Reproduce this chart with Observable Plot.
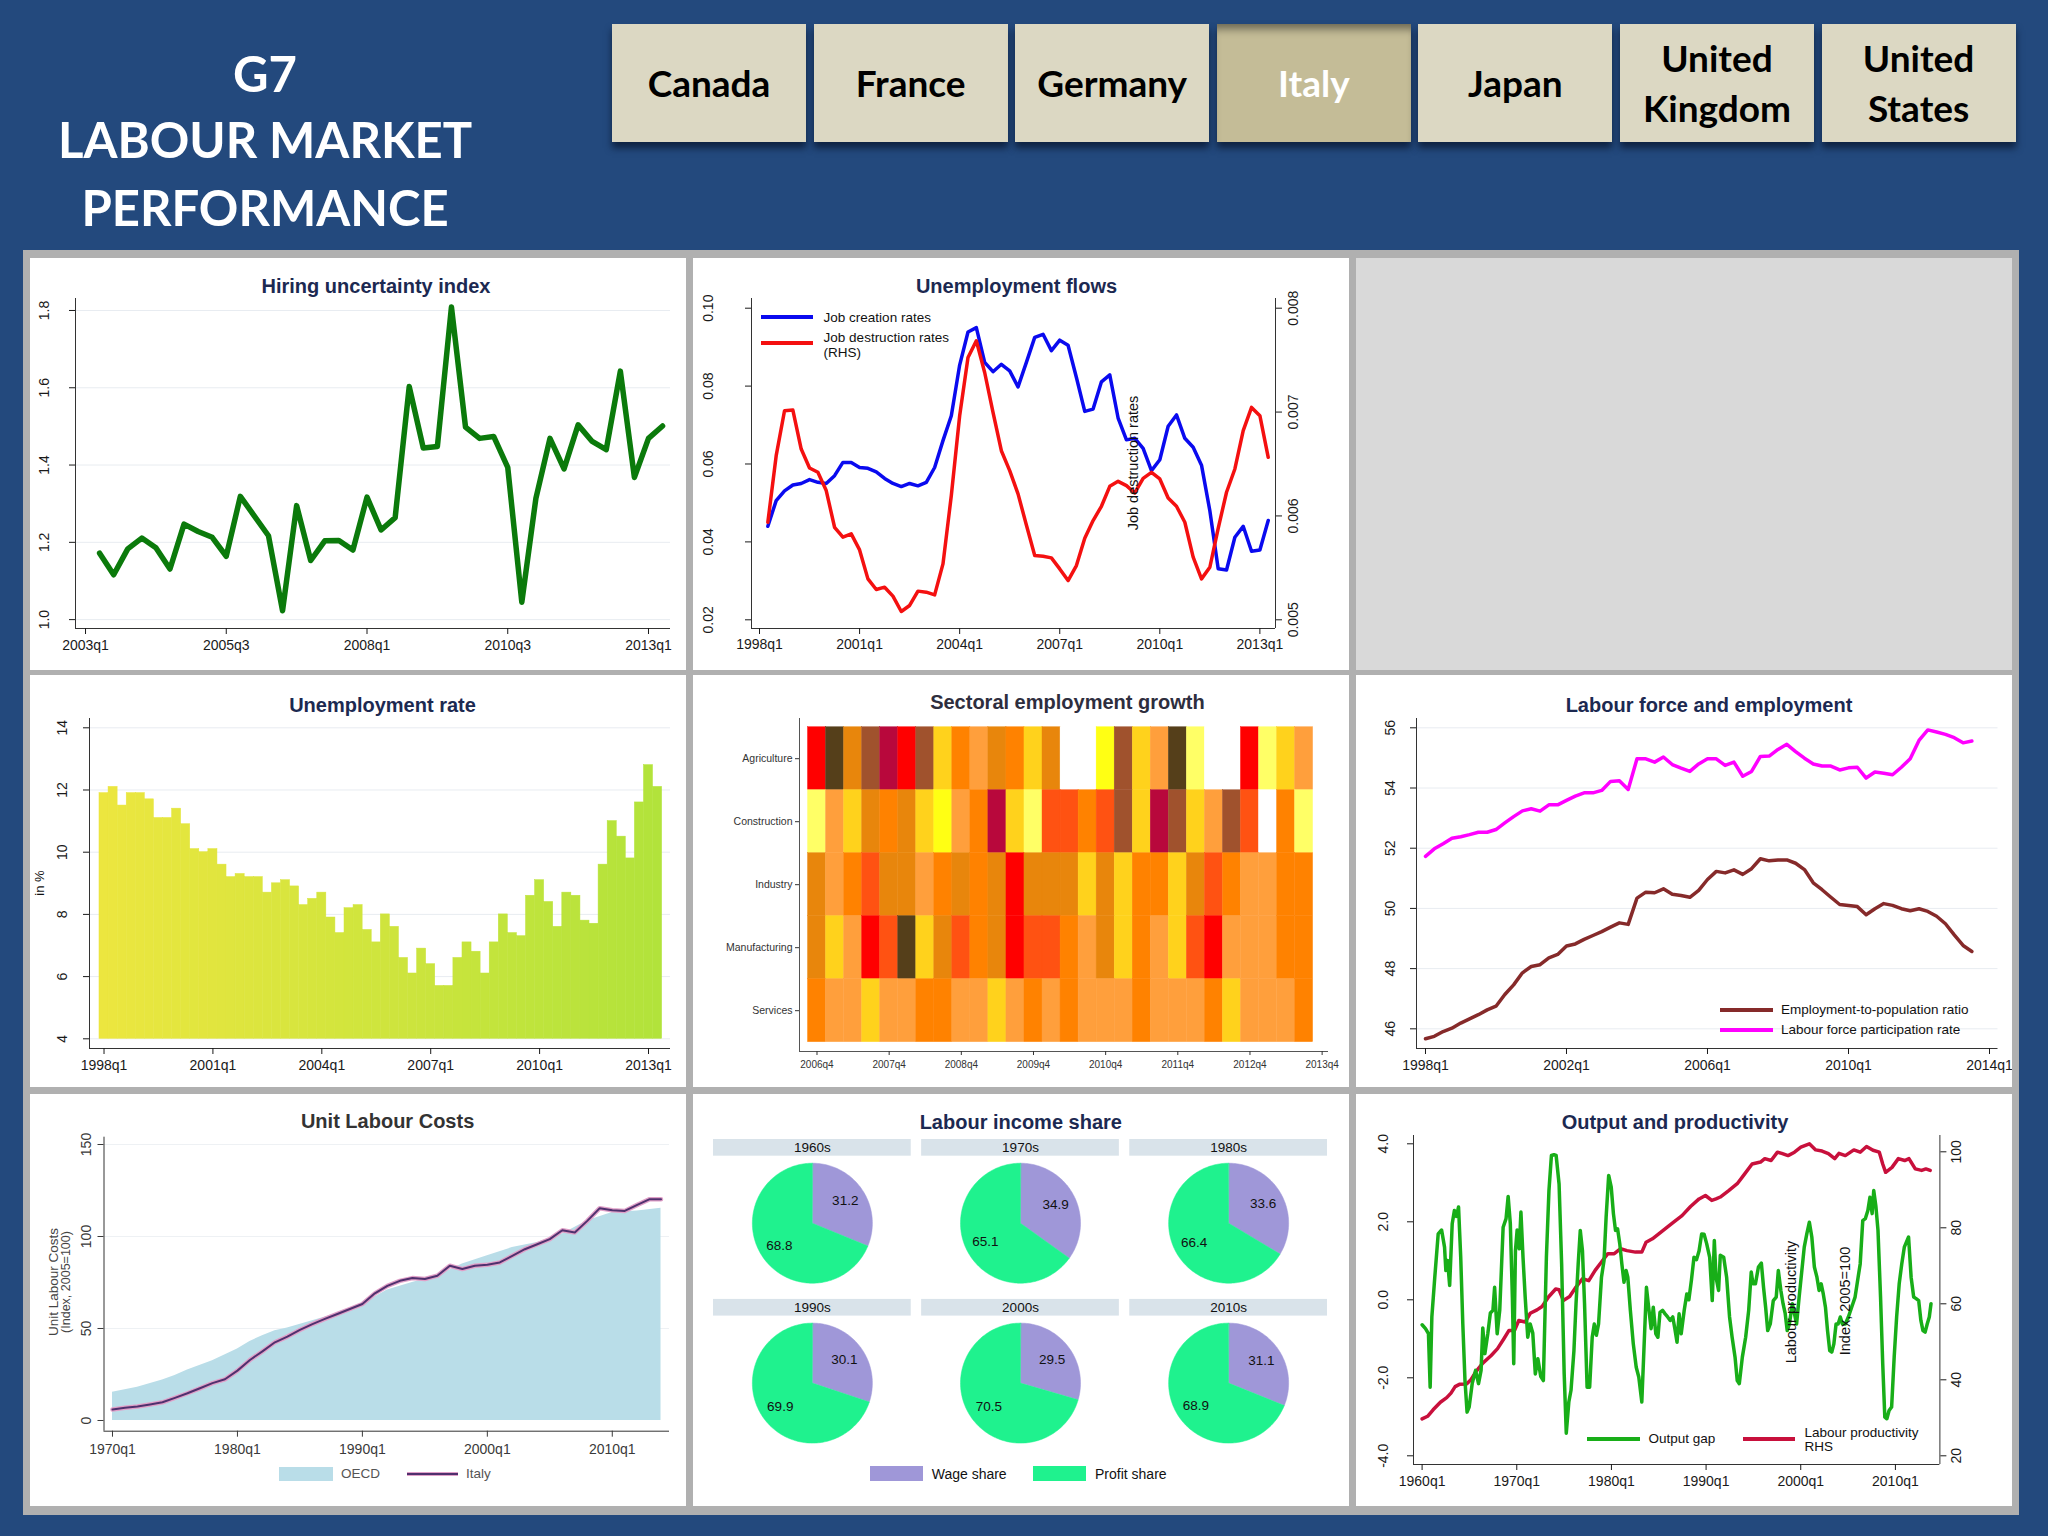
<!DOCTYPE html>
<html><head><meta charset="utf-8">
<script src="https://cdn.jsdelivr.net/npm/d3@7"></script>
<script src="https://cdn.jsdelivr.net/npm/@observablehq/plot@0.6"></script>
<style>
html,body{margin:0;padding:0;}
body{width:2048px;height:1536px;background:#23497d;position:relative;overflow:hidden;font-family:"Liberation Sans",Arial,sans-serif;}
.head{position:absolute;left:265px;transform:translate(-50%,-50%);color:#fff;font:700 49px/1 Lato,sans-serif;white-space:nowrap;}
.btn{position:absolute;top:24px;width:194px;height:118px;background:#dcd8c3;display:flex;align-items:center;justify-content:center;text-align:center;font:700 37px/50px Lato,sans-serif;color:#000;box-shadow:0 6px 7px rgba(8,22,45,0.75);}
.btn.sel{background:#c4bc97;color:#fff;box-shadow:inset 0 10px 9px -5px rgba(0,0,0,0.45),0 6px 7px rgba(8,22,45,0.75);}
#frame{position:absolute;left:23px;top:250px;width:1996px;height:1265px;background:#b0b0b0;}
.panel{position:absolute;width:656px;height:412px;background:#fff;overflow:hidden;}
.panel svg{position:absolute;left:0;top:0;}
.ov{position:absolute;white-space:nowrap;font-family:"Liberation Sans",Arial,sans-serif;color:#111;}
</style></head><body>
<div id="frame"></div>
<script>
// ---------------- DATA ----------------
const countries = ["Canada", "France", "Germany", "Italy", "Japan", "United\nKingdom", "United\nStates"];
const selectedCountry = "Italy";

// Hiring uncertainty index (quarterly from 2003q2)
const hiringStart = "2003q2";
const hiringValues = [1.172,1.116,1.183,1.211,1.186,1.131,1.247,1.228,1.213,1.164,1.319,1.268,1.217,1.023,1.295,1.153,1.204,1.205,1.180,1.317,1.232,1.264,1.603,1.444,1.448,1.809,1.498,1.469,1.474,1.394,1.045,1.314,1.469,1.390,1.504,1.461,1.440,1.643,1.368,1.469,1.501];
const hiringXTicks = ["2003q1","2005q3","2008q1","2010q3","2013q1"];
const hiringYTicks = [1.0,1.2,1.4,1.6,1.8];

// Unemployment flows (quarterly from 1998q2)
const flowsStart = "1998q2";
const jobCreation = [0.0440,0.0506,0.0531,0.0546,0.0550,0.0560,0.0553,0.0550,0.0570,0.0604,0.0604,0.0591,0.0589,0.0580,0.0563,0.0550,0.0542,0.0550,0.0544,0.0553,0.0591,0.0660,0.0724,0.0854,0.0939,0.0950,0.0861,0.0837,0.0856,0.0839,0.0798,0.0861,0.0925,0.0933,0.0891,0.0918,0.0905,0.0822,0.0735,0.0741,0.0811,0.0829,0.0718,0.0662,0.0666,0.0640,0.0583,0.0611,0.0697,0.0726,0.0666,0.0643,0.0597,0.0480,0.0331,0.0328,0.0412,0.0440,0.0376,0.0379,0.0455];
const jobDestruction = [0.005939,0.006580,0.007013,0.007019,0.006644,0.006462,0.006420,0.006244,0.005891,0.005795,0.005827,0.005673,0.005394,0.005292,0.005314,0.005228,0.005080,0.005138,0.005276,0.005266,0.005240,0.005538,0.006196,0.006965,0.007526,0.007686,0.007381,0.006997,0.006628,0.006436,0.006212,0.005913,0.005619,0.005612,0.005596,0.005490,0.005378,0.005522,0.005785,0.005955,0.006093,0.006285,0.006333,0.006292,0.006221,0.006362,0.006420,0.006356,0.006173,0.006093,0.005939,0.005603,0.005394,0.005506,0.005881,0.006228,0.006452,0.006821,0.007045,0.006965,0.006564];
const flowsXTicks = ["1998q1","2001q1","2004q1","2007q1","2010q1","2013q1"];
const flowsLeftTicks = [0.02,0.04,0.06,0.08,0.10];
const flowsRightTicks = [0.005,0.006,0.007,0.008];

// Unemployment rate (quarterly from 1998q1), in %
const urateStart = "1998q1";
const urateValues = [11.9,12.1,11.5,11.9,11.9,11.7,11.1,11.1,11.4,10.9,10.1,10.0,10.1,9.6,9.2,9.3,9.2,9.2,8.7,9.0,9.1,8.9,8.3,8.5,8.7,7.9,7.4,8.2,8.3,7.5,7.1,8.0,7.6,6.6,6.1,6.9,6.4,5.7,5.7,6.6,7.1,6.8,6.1,7.1,8.0,7.4,7.3,8.6,9.1,8.4,7.6,8.7,8.6,7.8,7.7,9.6,11.0,10.5,9.8,11.6,12.8,12.1];
const urateXTicks = ["1998q1","2001q1","2004q1","2007q1","2010q1","2013q1"];
const urateYTicks = [4,6,8,10,12,14];

// Sectoral employment growth (colour class per quarter, from 2006q4)
const heatStart = "2006q4";
const sectors = ["Agriculture","Construction","Industry","Manufacturing","Services"];
const agriculture   = [8,11,6,10,9,8,10,3,5,4,6,5,3,6,0,0,2,10,3,4,11,1,0,0,8,1,3,4];
const construction  = [1,4,3,6,5,6,3,2,4,5,9,3,1,7,7,5,7,10,3,9,10,3,4,10,7,0,5,1];
const industry      = [6,4,5,7,6,6,4,5,6,5,6,8,6,6,6,3,6,3,5,5,3,6,7,5,4,4,5,5];
const manufacturing = [6,3,4,8,7,11,3,6,7,5,6,8,7,7,5,4,6,3,5,4,3,7,8,4,4,4,5,5];
const services      = [5,4,4,3,4,4,5,5,4,4,3,4,5,4,5,4,4,4,5,4,4,4,5,3,4,4,4,5];
const heatClasses = [0,1,2,3,4,5,6,7,8,9,10,11];
const heatPalette = ["#ffffff","#ffff66","#ffff14","#ffd21c","#ff9f3c","#ff8200","#e8860c","#ff5212","#ff0000","#b8083c","#a0522d","#553f1a"];
const heatXTicks = ["2006q4","2007q4","2008q4","2009q4","2010q4","2011q4","2012q4","2013q4"];

// Labour force and employment (quarterly from 1998q1)
const lfStart = "1998q1";
const participation = [51.73,51.98,52.15,52.33,52.38,52.45,52.53,52.53,52.62,52.84,53.05,53.24,53.31,53.23,53.44,53.44,53.59,53.73,53.84,53.84,53.92,54.22,54.24,53.95,54.97,54.97,54.86,55.03,54.78,54.66,54.55,54.80,54.97,54.97,54.75,54.86,54.39,54.55,55.05,55.06,55.28,55.45,55.21,54.99,54.80,54.73,54.73,54.60,54.67,54.69,54.33,54.53,54.49,54.44,54.69,54.97,55.58,55.93,55.86,55.78,55.67,55.50,55.56];
const employmentRatio = [45.67,45.75,45.91,46.02,46.19,46.33,46.47,46.63,46.75,47.14,47.46,47.86,48.07,48.13,48.36,48.47,48.75,48.82,48.97,49.10,49.23,49.38,49.52,49.47,50.34,50.54,50.52,50.65,50.47,50.43,50.37,50.60,50.96,51.23,51.18,51.28,51.13,51.32,51.65,51.58,51.61,51.61,51.50,51.29,50.85,50.62,50.37,50.13,50.10,50.06,49.79,49.99,50.16,50.10,49.99,49.92,49.99,49.90,49.74,49.49,49.12,48.77,48.57];
const lfXTicks = ["1998q1","2002q1","2006q1","2010q1","2014q1"];
const lfYTicks = [46,48,50,52,54,56];

// Unit labour costs (index, 2005=100)
const oecdYears = [1970,1972,1974,1975,1976,1978,1980,1981,1982,1983,1984,1986,1988,1990,1992,1994,1996,1998,2000,2002,2004,2006,2008,2010,2012,2013.9];
const oecdValues = [15.4,18.1,22.0,24.4,27.5,32.5,38.9,43.0,46.1,48.8,50.3,54.2,58.2,63.3,70.9,75.0,78.7,85.0,89.5,94.0,96.7,101.3,108.5,113.0,113.9,115.4];
const italyYears = [1970,1971,1972,1973,1974,1975,1976,1977,1978,1979,1980,1981,1982,1983,1984,1985,1986,1987,1988,1989,1990,1991,1992,1993,1994,1995,1996,1997,1998,1999,2000,2001,2002,2003,2004,2005,2006,2007,2008,2009,2010,2011,2012,2013,2013.9];
const italyValues = [6.0,6.9,7.6,8.7,9.9,12.3,14.8,17.5,20.3,22.4,27.1,32.9,37.6,42.5,45.6,49.2,52.4,55.2,57.9,60.6,63.3,69.1,73.2,75.9,77.4,76.9,78.7,84.1,82.3,84.1,84.6,85.9,89.5,93.1,95.8,98.6,103.4,102.2,108.5,115.4,114.3,113.9,117.2,120.3,120.3];
const ulcXTicks = ["1970q1","1980q1","1990q1","2000q1","2010q1"];
const ulcYTicks = [0,50,100,150];

// Labour income share by decade
const decades = ["1960s","1970s","1980s","1990s","2000s","2010s"];
const wageShare = [31.2,34.9,33.6,30.1,29.5,31.1];
const profitShare = [68.8,65.1,66.4,69.9,70.5,68.9];

// Output and productivity
const gapYears = [1960.00,1960.36,1960.67,1960.85,1961.03,1961.34,1961.70,1962.06,1962.37,1962.51,1962.69,1962.91,1963.18,1963.41,1963.63,1963.85,1964.08,1964.30,1964.53,1964.75,1964.97,1965.29,1965.65,1965.96,1966.23,1966.41,1966.63,1966.94,1967.21,1967.48,1967.66,1967.93,1968.20,1968.56,1968.87,1969.09,1969.32,1969.54,1969.68,1969.86,1970.04,1970.26,1970.44,1970.66,1970.89,1971.16,1971.42,1971.69,1971.96,1972.23,1972.54,1972.81,1973.13,1973.40,1973.66,1973.93,1974.16,1974.47,1974.74,1975.01,1975.23,1975.50,1975.73,1976.04,1976.26,1976.49,1976.71,1976.94,1977.16,1977.43,1977.70,1977.97,1978.19,1978.41,1978.64,1978.95,1979.22,1979.44,1979.71,1979.98,1980.21,1980.43,1980.65,1980.88,1981.10,1981.33,1981.55,1981.73,1982.00,1982.31,1982.62,1982.89,1983.21,1983.43,1983.70,1983.97,1984.19,1984.42,1984.69,1984.91,1985.13,1985.40,1985.67,1985.94,1986.21,1986.48,1986.70,1986.93,1987.15,1987.37,1987.69,1987.96,1988.18,1988.45,1988.72,1988.99,1989.26,1989.53,1989.79,1990.06,1990.38,1990.65,1990.87,1991.05,1991.32,1991.50,1991.86,1992.17,1992.48,1992.75,1993.06,1993.29,1993.51,1993.83,1994.18,1994.50,1994.77,1994.95,1995.21,1995.53,1995.84,1996.07,1996.29,1996.51,1996.78,1997.10,1997.41,1997.63,1997.90,1998.13,1998.35,1998.57,1998.80,1999.11,1999.34,1999.56,1999.83,2000.10,2000.37,2000.64,2000.91,2001.17,2001.44,2001.71,2001.94,2002.16,2002.38,2002.61,2002.83,2003.06,2003.28,2003.50,2003.73,2003.95,2004.18,2004.40,2004.71,2005.03,2005.38,2005.74,2006.06,2006.28,2006.55,2006.82,2007.09,2007.31,2007.54,2007.71,2007.94,2008.16,2008.43,2008.66,2008.88,2009.10,2009.33,2009.60,2009.87,2010.13,2010.40,2010.67,2010.94,2011.16,2011.39,2011.66,2011.93,2012.19,2012.46,2012.69,2012.91,2013.14,2013.36,2013.58,2013.76];
const gapValues = [-0.64,-0.74,-0.87,-2.24,-0.44,0.58,1.69,1.79,1.35,0.75,1.01,0.37,1.95,2.29,2.14,2.38,1.09,-0.62,-2.07,-2.88,-2.75,-2.15,-1.81,-2.15,-1.81,-0.72,-1.38,-0.87,-0.34,-0.27,0.32,-0.87,-0.27,1.86,2.08,2.65,1.95,0.03,-1.64,1.26,1.79,1.31,2.25,1.09,0.07,-0.96,-0.62,-0.85,-1.90,-1.51,-1.97,-2.07,1.09,2.80,3.70,3.72,3.70,2.97,0.92,-1.90,-3.42,-2.62,-2.32,-1.30,-0.10,0.92,1.78,1.26,-0.10,-2.24,-2.24,-0.96,-0.62,-0.91,-0.62,0.58,1.01,2.12,3.19,2.89,2.21,1.78,1.82,1.44,0.92,0.45,0.75,0.58,-0.27,-1.13,-1.73,-1.98,-2.62,-1.30,0.32,-0.27,-0.74,-0.19,-0.87,-0.96,-0.32,-0.27,-0.36,-0.44,-0.53,-0.44,-0.74,-1.09,-0.36,-0.87,-0.27,0.15,0.00,0.50,1.09,1.03,1.26,1.69,1.68,1.44,1.09,-0.02,1.52,0.58,0.24,1.14,1.09,0.58,-0.44,-0.96,-1.47,-2.07,-2.15,-1.47,-0.96,-0.27,0.71,0.41,0.41,0.84,0.94,0.32,-0.19,-0.79,-0.62,-0.02,0.07,0.75,0.24,-0.10,-0.34,-0.79,-0.62,-0.10,-0.36,-0.62,0.07,0.71,1.35,1.69,1.99,1.61,0.84,0.58,0.24,0.41,0.15,-0.19,-0.79,-1.30,-1.34,-1.13,-0.62,-0.62,-0.44,-0.62,-0.62,-0.44,-0.19,0.07,0.58,0.92,2.03,2.08,2.29,2.63,2.21,2.80,2.39,1.78,0.07,-1.64,-3.01,-3.05,-2.84,-2.75,-1.47,-0.44,0.41,0.92,1.35,1.48,1.61,0.58,0.07,0.03,-0.02,-0.53,-0.79,-0.83,-0.62,-0.44,-0.10];
const prodYears = [1960.00,1960.58,1961.16,1961.93,1962.60,1963.05,1963.49,1963.94,1964.70,1965.15,1965.65,1966.41,1967.30,1967.97,1968.64,1969.18,1969.77,1970.21,1970.89,1971.42,1972.14,1972.68,1973.35,1974.11,1974.47,1974.92,1975.59,1976.26,1976.94,1977.61,1978.28,1978.95,1979.62,1980.30,1980.97,1981.64,1982.54,1983.21,1983.66,1984.33,1985.00,1985.90,1986.57,1987.46,1988.36,1989.26,1989.93,1990.60,1991.05,1991.50,1992.39,1993.29,1993.96,1994.86,1995.75,1996.20,1996.87,1997.54,1997.99,1998.66,1999.34,2000.01,2000.91,2001.58,2002.25,2002.92,2003.59,2004.04,2004.71,2005.61,2006.28,2006.95,2007.63,2008.30,2008.66,2008.97,2009.64,2010.31,2010.98,2011.43,2012.10,2012.77,2013.22,2013.67];
const prodValues = [29.7,30.4,32.1,34.1,35.3,36.5,38.2,38.8,38.9,40.0,42.0,44.4,46.4,48.2,50.8,53.0,53.0,55.6,55.2,57.5,58.4,59.3,61.8,63.9,63.7,60.9,61.9,64.4,66.6,66.1,68.8,71.0,73.2,73.2,74.5,74.0,73.6,73.6,76.2,77.1,78.4,80.2,81.5,83.2,85.6,87.6,88.5,87.2,87.6,88.1,89.8,91.6,93.8,96.8,97.3,98.2,97.7,99.9,99.6,99.0,99.9,101.2,102.1,100.5,100.2,99.5,98.2,99.6,99.0,100.5,99.9,101.4,100.4,99.9,96.8,94.6,95.9,98.2,97.7,98.2,95.5,95.1,95.5,95.1];
const opXTicks = ["1960q1","1970q1","1980q1","1990q1","2000q1","2010q1"];
const opLeftTicks = [-4,-2,0,2,4];
const opRightTicks = [20,40,60,80,100];

// ---------------- HELPERS ----------------
const W = 656, H = 412;
const colsX = [30, 693, 1356], rowsY = [258, 675, 1094];
const AX = "#333", GRID = "#e8ecf1";
const baseStyle = {background: "transparent", fontFamily: "Liberation Sans, Arial, sans-serif", fontSize: "14px", color: "#1a1a1a", overflow: "visible"};
const qnum = s => { const [y, q] = s.split("q"); return +y + (+q - 1) / 4; };
const qlab = v => { const y = Math.floor(v + 1e-6); return y + "q" + (Math.round((v - y) * 4) + 1); };
const quarterly = (start, values) => values.map((v, i) => ({x: qnum(start) + i / 4, v}));
const pairs = (xs, vs) => xs.slice(0, Math.min(xs.length, vs.length)).map((x, i) => ({x, v: vs[i]}));

function panel(c, r, bg) {
  const d = document.createElement("div");
  d.className = "panel";
  d.style.left = colsX[c] + "px"; d.style.top = rowsY[r] + "px";
  if (bg) d.style.background = bg;
  document.body.appendChild(d);
  return d;
}
function ov(p, text, x, y, css) {
  const d = document.createElement("div");
  d.className = "ov";
  d.innerHTML = text.split("\n").join("<br>");
  d.style.cssText += `left:${x}px;top:${y}px;` + (css || "");
  p.appendChild(d);
  return d;
}
function title(p, text, x, y, color) {
  ov(p, text, x, y, `transform:translate(-50%,-50%);font-weight:bold;font-size:20px;line-height:1;color:${color || "#1c2951"};`);
}
function sw(p, x1, x2, y, h, color) {
  const d = document.createElement("div");
  d.style.cssText = `position:absolute;left:${x1}px;top:${y - h / 2}px;width:${x2 - x1}px;height:${h}px;background:${color};`;
  p.appendChild(d);
}
function safe(p, f) { try { p.appendChild(f()); } catch (e) { ov(p, "ERR: " + e.message, 10, 200, "color:red;font-size:12px;white-space:normal;width:600px"); } }

// ---------------- HEADER ----------------
[["G7", 73], ["LABOUR MARKET", 139], ["PERFORMANCE", 207]].forEach(([t, y]) => {
  const d = document.createElement("div"); d.className = "head"; d.textContent = t; d.style.top = y + "px"; document.body.appendChild(d);
});
countries.forEach((c, i) => {
  const d = document.createElement("div");
  d.className = "btn" + (c === selectedCountry ? " sel" : "");
  d.style.left = (612 + i * 201.6) + "px";
  d.innerHTML = "<span>" + c.split("\n").join("<br>") + "</span>";
  document.body.appendChild(d);
});

// ---------------- PANEL 1: Hiring uncertainty ----------------
{
  const p = panel(0, 0);
  const xd = [2002.822, 2013.391], yd = [0.977, 1.831];
  safe(p, () => Plot.plot({
    width: W, height: H, marginLeft: 45, marginRight: 16, marginTop: 40, marginBottom: 42, style: baseStyle,
    x: {domain: xd}, y: {domain: yd},
    marks: [
      Plot.gridY(hiringYTicks, {stroke: GRID, strokeOpacity: 1}),
      Plot.ruleX([xd[0]], {stroke: AX}), Plot.ruleY([yd[0]], {stroke: AX}),
      Plot.axisY(hiringYTicks, {tickRotate: -90, tickSize: 6, tickPadding: 21, tickFormat: d => d.toFixed(1), label: null}),
      Plot.axisX(hiringXTicks.map(qnum), {tickSize: 6, tickPadding: 6, tickFormat: qlab, label: null}),
      Plot.line(quarterly(hiringStart, hiringValues), {x: "x", y: "v", stroke: "#0b7a0b", strokeWidth: 5.5, strokeLinejoin: "round"})
    ]
  }));
  title(p, "Hiring uncertainty index", 346, 28);
}

// ---------------- PANEL 2: Unemployment flows ----------------
{
  const p = panel(1, 0);
  const xd = [1997.760, 2013.468], yd = [0.017766, 0.10249];
  const toLeft = v => 0.02 + (v - 0.005) / 0.003 * 0.08;
  const fromLeft = d => 0.005 + (d - 0.02) / 0.08 * 0.003;
  safe(p, () => Plot.plot({
    width: W, height: H, marginLeft: 58, marginRight: 74, marginTop: 40, marginBottom: 42, style: baseStyle,
    x: {domain: xd}, y: {domain: yd},
    marks: [
      Plot.ruleX([xd[0]], {stroke: AX}), Plot.ruleX([xd[1]], {stroke: AX}), Plot.ruleY([yd[0]], {stroke: AX}),
      Plot.axisY(flowsLeftTicks, {tickRotate: -90, tickSize: 6, tickPadding: 33, tickFormat: d => d.toFixed(2), label: null}),
      Plot.axisY(flowsRightTicks.map(toLeft), {anchor: "right", tickRotate: -90, lineAnchor: "top", tickSize: 6, tickPadding: 7, tickFormat: d => fromLeft(d).toFixed(3), label: null}),
      Plot.axisX(flowsXTicks.map(qnum), {tickSize: 6, tickPadding: 5, tickFormat: qlab, label: null}),
      Plot.line(quarterly(flowsStart, jobCreation), {x: "x", y: "v", stroke: "#0a0aef", strokeWidth: 3.5}),
      Plot.line(quarterly(flowsStart, jobDestruction), {x: "x", y: d => toLeft(d.v), stroke: "#f41010", strokeWidth: 3.5})
    ]
  }));
  title(p, "Unemployment flows", 323.5, 28);
  sw(p, 68, 120, 59, 4, "#0a0aef"); sw(p, 68, 120, 85, 4, "#f41010");
  ov(p, "Job creation rates", 130.6, 59.5, "transform:translate(0,-50%);font-size:13.5px;line-height:1;");
  ov(p, "Job destruction rates\n(RHS)", 130.6, 86.5, "transform:translate(0,-50%);font-size:13.5px;line-height:15px;");
  ov(p, "Job destruction rates", 440, 205, "transform:translate(-50%,-50%) rotate(-90deg);font-size:14.5px;line-height:1;");
}

// ---------------- PANEL 3: empty ----------------
panel(2, 0, "#d9d9d9");

// ---------------- PANEL 4: Unemployment rate ----------------
{
  const p = panel(0, 1);
  const xd = [1997.600, 2013.606], yd = [3.688, 14.299];
  const bars = quarterly(urateStart, urateValues).map((d, i) => ({...d, i}));
  safe(p, () => Plot.plot({
    width: W, height: H, marginLeft: 59, marginRight: 16, marginTop: 43, marginBottom: 39, style: baseStyle,
    x: {domain: xd}, y: {domain: yd},
    color: {type: "linear", domain: [0, bars.length - 1], range: ["#ece63f", "#b2e33b"]},
    marks: [
      Plot.gridY(urateYTicks, {stroke: GRID, strokeOpacity: 1}),
      Plot.rect(bars, {x1: d => d.x - 0.125, x2: d => d.x + 0.125, y1: d => 4, y2: "v", fill: "i", stroke: "i", strokeWidth: 0.5}),
      Plot.ruleX([xd[0]], {stroke: AX}), Plot.ruleY([yd[0]], {stroke: AX}),
      Plot.axisY(urateYTicks, {tickRotate: -90, tickSize: 6, tickPadding: 17, tickFormat: d => String(d), label: null}),
      Plot.axisX(urateXTicks.map(qnum), {tickSize: 6, tickPadding: 6, tickFormat: qlab, label: null})
    ]
  }));
  title(p, "Unemployment rate", 352.5, 30);
  ov(p, "in %", 9, 208, "transform:translate(-50%,-50%) rotate(-90deg);font-size:13px;line-height:1;");
}

// ---------------- PANEL 5: Sectoral employment growth ----------------
{
  const p = panel(1, 1);
  const xd = [-0.970, 28.353], yd = [-0.638, 4.648];
  const rows = [agriculture, construction, industry, manufacturing, services];
  const cells = [];
  rows.forEach((row, r) => row.forEach((lvl, c) => cells.push({c, r, lvl})));
  const s0 = qnum(heatStart);
  safe(p, () => Plot.plot({
    width: W, height: H, marginLeft: 106, marginRight: 21, marginTop: 43, marginBottom: 36, style: {...baseStyle, color: "#333"},
    x: {domain: xd}, y: {domain: yd, reverse: true},
    color: {type: "ordinal", domain: heatClasses, range: heatPalette},
    marks: [
      Plot.rect(cells, {x1: d => d.c - 0.5, x2: d => d.c + 0.5, y1: d => d.r - 0.5, y2: d => d.r + 0.5, fill: "lvl", stroke: "lvl", strokeWidth: 0.4}),
      Plot.ruleX([xd[0]], {stroke: "#555"}), Plot.ruleY([yd[1]], {stroke: "#555"}),
      Plot.axisY(sectors.map((s, i) => i), {tickSize: 4, tickPadding: 3, fontSize: 10.5, tickFormat: i => sectors[i], label: null}),
      Plot.axisX(heatXTicks.map(t => (qnum(t) - s0) * 4), {tickSize: 4, tickPadding: 5, fontSize: 10, tickFormat: d => qlab(s0 + d / 4), label: null})
    ]
  }));
  title(p, "Sectoral employment growth", 374.4, 27, "#2e2e3e");
}

// ---------------- PANEL 6: Labour force and employment ----------------
{
  const p = panel(2, 1);
  const xd = [1997.745, 2014.241], yd = [45.346, 56.309];
  safe(p, () => Plot.plot({
    width: W, height: H, marginLeft: 60, marginRight: 14.5, marginTop: 43, marginBottom: 39, style: baseStyle,
    x: {domain: xd}, y: {domain: yd},
    marks: [
      Plot.gridY(lfYTicks, {stroke: GRID, strokeOpacity: 1}),
      Plot.ruleX([xd[0]], {stroke: AX}), Plot.ruleY([yd[0]], {stroke: AX}),
      Plot.axisY(lfYTicks, {tickRotate: -90, tickSize: 6, tickPadding: 16, tickFormat: d => String(d), label: null}),
      Plot.axisX(lfXTicks.map(qnum), {tickSize: 6, tickPadding: 6, tickFormat: qlab, label: null}),
      Plot.line(quarterly(lfStart, participation), {x: "x", y: "v", stroke: "#ff00ff", strokeWidth: 3.5}),
      Plot.line(quarterly(lfStart, employmentRatio), {x: "x", y: "v", stroke: "#862a2a", strokeWidth: 3.5})
    ]
  }));
  title(p, "Labour force and employment", 353, 30);
  sw(p, 364, 417, 334.5, 4, "#862a2a"); sw(p, 364, 417, 355, 4, "#ff00ff");
  ov(p, "Employment-to-population ratio", 425, 334.5, "transform:translate(0,-50%);font-size:13.5px;line-height:1;");
  ov(p, "Labour force participation rate", 425, 355, "transform:translate(0,-50%);font-size:13.5px;line-height:1;");
}

// ---------------- PANEL 7: Unit Labour Costs ----------------
{
  const p = panel(0, 2);
  const xd = [1969.32, 2014.58], yd = [-5.82, 153.97];
  safe(p, () => Plot.plot({
    width: W, height: H, marginLeft: 73.5, marginRight: 17, marginTop: 42.7, marginBottom: 75.3, style: {...baseStyle, color: "#3a3a3a"},
    x: {domain: xd}, y: {domain: yd},
    marks: [
      Plot.gridY([50, 100, 150], {stroke: "#eef1f4", strokeOpacity: 1}),
      Plot.areaY(pairs(oecdYears, oecdValues), {x: "x", y: "v", fill: "#b9dde8"}),
      Plot.line(pairs(italyYears, italyValues), {x: "x", y: "v", stroke: "#e0a0c8", strokeWidth: 4.5}),
      Plot.line(pairs(italyYears, italyValues), {x: "x", y: "v", stroke: "#50306e", strokeWidth: 2}),
      Plot.ruleX([xd[0]], {stroke: AX}), Plot.ruleY([yd[0]], {stroke: AX}),
      Plot.axisY(ulcYTicks, {tickRotate: -90, tickSize: 6, tickPadding: 7, tickFormat: d => String(d), label: null}),
      Plot.axisX(ulcXTicks.map(qnum), {tickSize: 6, tickPadding: 7, tickFormat: qlab, label: null})
    ]
  }));
  title(p, "Unit Labour Costs", 357.6, 26.7, "#333");
  ov(p, "Unit Labour Costs", 24, 188, "transform:translate(-50%,-50%) rotate(-90deg);font-size:13.5px;line-height:1;color:#444;");
  ov(p, "(Index, 2005=100)", 35.5, 188, "transform:translate(-50%,-50%) rotate(-90deg);font-size:12.5px;line-height:1;color:#444;");
  sw(p, 249, 302.5, 380, 14, "#b9dde8");
  ov(p, "OECD", 311, 380, "transform:translate(0,-50%);font-size:13.5px;line-height:1;color:#555;");
  sw(p, 377, 428, 380, 4, "#e0a0c8"); sw(p, 377, 428, 380, 2, "#50306e");
  ov(p, "Italy", 436, 380, "transform:translate(0,-50%);font-size:13.5px;line-height:1;color:#555;");
}

// ---------------- PANEL 8: Labour income share ----------------
{
  const p = panel(1, 2);
  const wageColor = "#9f97d8", profitColor = "#1ff28e";
  const cells = decades.map((d, i) => ({decade: d, col: i % 3, row: Math.floor(i / 3)}));
  const wagePts = [], profitPts = [], labels = [];
  decades.forEach((d, i) => {
    const arcs = d3.pie().sort(null)([wageShare[i], profitShare[i]]);
    arcs.forEach((a, k) => {
      const target = k === 0 ? wagePts : profitPts;
      const n = Math.max(2, Math.ceil((a.endAngle - a.startAngle) / (Math.PI / 120)));
      target.push({decade: d, col: i % 3, row: Math.floor(i / 3), x: 0, y: 0});
      for (let j = 0; j <= n; j++) {
        const t = a.startAngle + (a.endAngle - a.startAngle) * j / n;
        target.push({decade: d, col: i % 3, row: Math.floor(i / 3), x: Math.sin(t), y: Math.cos(t)});
      }
      const m = (a.startAngle + a.endAngle) / 2;
      labels.push({col: i % 3, row: Math.floor(i / 3), x: 0.66 * Math.sin(m), y: 0.66 * Math.cos(m), text: a.data.toFixed(1)});
    });
  });
  const xd = [-1.6475, 1.6475], yd = [-0.998, 1.395], stripBottom = 1.117;
  safe(p, () => Plot.plot({
    width: W, height: H, marginLeft: 20, marginRight: 22, marginTop: 45, marginBottom: 63.5, style: {...baseStyle, fontSize: "13.5px"},
    fx: {domain: [0, 1, 2], paddingInner: 0.05, paddingOuter: 0, round: false, axis: null},
    fy: {domain: [0, 1], paddingInner: 0.102, paddingOuter: 0, round: false, axis: null},
    x: {domain: xd, axis: null}, y: {domain: yd, axis: null},
    marks: [
      Plot.rect(cells, {fx: "col", fy: "row", x1: xd[0], x2: xd[1], y1: stripBottom, y2: yd[1], fill: "#d9e3ea"}),
      Plot.text(cells, {fx: "col", fy: "row", x: 0, y: (stripBottom + yd[1]) / 2, text: "decade", fontSize: 13.5, fill: "#111"}),
      Plot.line(wagePts, {fx: "col", fy: "row", x: "x", y: "y", z: "decade", fill: wageColor, stroke: wageColor, strokeWidth: 0.5, curve: "linear-closed"}),
      Plot.line(profitPts, {fx: "col", fy: "row", x: "x", y: "y", z: "decade", fill: profitColor, stroke: profitColor, strokeWidth: 0.5, curve: "linear-closed"}),
      Plot.text(labels, {fx: "col", fy: "row", x: "x", y: "y", text: "text", fontSize: 13.5, fill: "#111"})
    ]
  }));
  title(p, "Labour income share", 327.8, 28);
  sw(p, 177, 229.5, 379.5, 14.5, wageColor);
  ov(p, "Wage share", 238.7, 379.5, "transform:translate(0,-50%);font-size:14px;line-height:1;");
  sw(p, 339.7, 392.7, 379.5, 14.5, profitColor);
  ov(p, "Profit share", 402, 379.5, "transform:translate(0,-50%);font-size:14px;line-height:1;");
}

// ---------------- PANEL 9: Output and productivity ----------------
{
  const p = panel(2, 2);
  const xd = [1959.091, 2014.70], yd = [-4.223, 4.213];
  const toLeft = v => -4 + (v - 20) / 80 * 7.795;
  const fromLeft = d => 20 + (d + 4) / 7.795 * 80;
  safe(p, () => Plot.plot({
    width: W, height: H, marginLeft: 57, marginRight: 72.6, marginTop: 41, marginBottom: 42, style: baseStyle,
    x: {domain: xd}, y: {domain: yd},
    marks: [
      Plot.ruleX([xd[0]], {stroke: AX}), Plot.ruleX([xd[1]], {stroke: AX}), Plot.ruleY([yd[0]], {stroke: AX}),
      Plot.axisY(opLeftTicks, {tickRotate: -90, tickSize: 6, tickPadding: 20, tickFormat: d => d.toFixed(1), label: null}),
      Plot.axisY(opRightTicks.map(toLeft), {anchor: "right", tickRotate: -90, lineAnchor: "top", tickSize: 6, tickPadding: 5, tickFormat: d => String(Math.round(fromLeft(d))), label: null}),
      Plot.axisX(opXTicks.map(qnum), {tickSize: 6, tickPadding: 6, tickFormat: qlab, label: null}),
      Plot.line(pairs(prodYears, prodValues), {x: "x", y: d => toLeft(d.v), stroke: "#c8103c", strokeWidth: 3.5, strokeLinejoin: "round"}),
      Plot.line(pairs(gapYears, gapValues), {x: "x", y: "v", stroke: "#18ae18", strokeWidth: 3.5, strokeLinejoin: "round"})
    ]
  }));
  title(p, "Output and productivity", 319, 28);
  ov(p, "Labour productivity", 435, 207.7, "transform:translate(-50%,-50%) rotate(-90deg);font-size:14.5px;line-height:1;");
  ov(p, "Index, 2005=100", 488.8, 206.7, "transform:translate(-50%,-50%) rotate(-90deg);font-size:14.5px;line-height:1;");
  sw(p, 231.4, 284, 345, 4, "#18ae18");
  ov(p, "Output gap", 292.5, 345, "transform:translate(0,-50%);font-size:13.5px;line-height:1;");
  sw(p, 387, 439, 345, 4, "#c8103c");
  ov(p, "Labour productivity\nRHS", 448.5, 345.7, "transform:translate(0,-50%);font-size:13.5px;line-height:14px;");
}
</script>
</body></html>
